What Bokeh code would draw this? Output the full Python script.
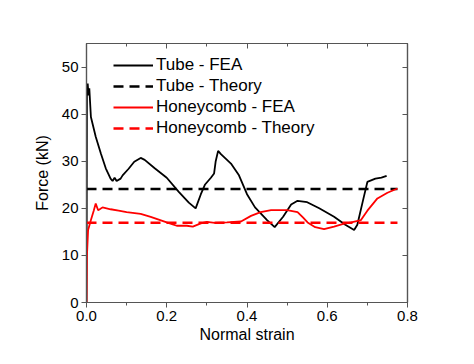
from bokeh.plotting import figure
from bokeh.models import LinearAxis, FixedTicker, Legend, LegendItem, CustomJSTickFormatter, Range1d
from bokeh.embed import file_html
from bokeh.resources import INLINE

tube_strain = [0.0, 0.001, 0.003, 0.005, 0.007, 0.011, 0.023, 0.036, 0.048, 0.06, 0.065, 0.07, 0.075,
               0.085, 0.09, 0.105, 0.119, 0.135, 0.145, 0.17, 0.2, 0.23, 0.255, 0.272, 0.285, 0.295, 0.31,
               0.318, 0.322, 0.328, 0.335, 0.36, 0.38, 0.4, 0.42, 0.45, 0.469, 0.49, 0.51, 0.526,
               0.55, 0.58, 0.617, 0.645, 0.667, 0.675, 0.69, 0.7, 0.72, 0.735, 0.748]
tube_force = [0.0, 44.0, 46.5, 44.0, 45.5, 39.4, 35.2, 31.6, 28.5, 26.3, 25.8, 26.5, 25.8,
              26.3, 27.0, 28.4, 29.9, 30.7, 30.3, 28.5, 26.5, 23.5, 21.2, 20.0, 23.0, 25.0, 26.5,
              27.4, 30.0, 32.2, 31.5, 29.5, 27.0, 23.0, 20.2, 17.5, 16.0, 18.2, 20.8, 21.6,
              21.3, 20.0, 18.2, 16.5, 15.4, 16.5, 22.0, 25.6, 26.3, 26.5, 26.9]

honey_strain = [0.0, 0.001, 0.004, 0.011, 0.018, 0.023, 0.029, 0.033, 0.04, 0.06, 0.08, 0.1,
                0.135, 0.16, 0.18, 0.2, 0.215, 0.225, 0.25, 0.265, 0.285, 0.3, 0.32, 0.35, 0.385,
                0.41, 0.434, 0.46, 0.5, 0.526, 0.54, 0.551, 0.57, 0.592, 0.617, 0.64, 0.66, 0.684,
                0.7, 0.725, 0.75, 0.775]
honey_force = [0.0, 9.7, 15.4, 17.5, 19.5, 21.0, 19.6, 19.8, 20.2, 19.8, 19.5, 19.2,
               18.8, 18.2, 17.6, 17.0, 16.6, 16.3, 16.3, 16.1, 16.8, 17.1, 16.9, 17.0, 17.2,
               18.4, 19.2, 19.6, 19.6, 19.2, 18.0, 17.0, 16.0, 15.6, 16.1, 16.7, 17.0, 17.5,
               19.5, 22.1, 23.3, 24.2]

theory_strain = [0.0, 0.775]
tube_theory = [24.1, 24.1]
honey_theory = [16.95, 16.95]

x_ticks = [0.0, 0.2, 0.4, 0.6, 0.8]
x_minor = [0.1, 0.3, 0.5, 0.7]
y_ticks = [0, 10, 20, 30, 40, 50]

FONT = "Liberation Sans"
AX = "#555555"

p = figure(frame_width=321, frame_height=259, min_border_left=86, min_border_right=59,
           min_border_top=43, min_border_bottom=53, output_backend="svg",
           toolbar_location=None, x_range=Range1d(0, 0.8), y_range=Range1d(0, 55))
p.grid.visible = False
p.outline_line_color = AX
p.outline_line_width = 1.2
p.background_fill_color = "white"
p.border_fill_color = "white"

def style(ax, inside=False):
    ax.axis_line_color = AX
    ax.major_tick_line_color = AX
    ax.minor_tick_line_color = AX
    ax.axis_line_width = 1.2
    if inside:
        ax.major_tick_in, ax.major_tick_out = 5, 0
        ax.minor_tick_in, ax.minor_tick_out = 3, 0
    else:
        ax.major_tick_in, ax.major_tick_out = 0, 5
        ax.minor_tick_in, ax.minor_tick_out = 0, 3
    ax.major_label_text_font = FONT
    ax.major_label_text_font_size = "15px"
    ax.major_label_text_color = "black"
    ax.axis_label_text_font = FONT
    ax.axis_label_text_font_size = "16px"
    ax.axis_label_text_font_style = "normal"
    ax.axis_label_text_color = "black"

xa = p.xaxis[0]
xa.ticker = FixedTicker(ticks=x_ticks, minor_ticks=x_minor)
xa.formatter = CustomJSTickFormatter(code="return tick.toFixed(1);")
xa.axis_label = "Normal strain"
xa.axis_label_standoff = 2
xa.major_label_standoff = 3
style(xa)

ya = p.yaxis[0]
ya.ticker = FixedTicker(ticks=y_ticks, minor_ticks=[])
ya.axis_label = "Force (kN)"
ya.axis_label_standoff = 8
ya.major_label_standoff = 3
style(ya)

blank = CustomJSTickFormatter(code="return '';")
top = LinearAxis(ticker=FixedTicker(ticks=x_ticks, minor_ticks=x_minor), formatter=blank)
style(top, inside=True)
p.add_layout(top, "above")
right = LinearAxis(ticker=FixedTicker(ticks=y_ticks, minor_ticks=[]), formatter=blank)
style(right, inside=True)
p.add_layout(right, "right")

r1 = p.line(tube_strain, tube_force, line_color="black", line_width=1.8)
r2 = p.line(theory_strain, tube_theory, line_color="black", line_width=2.5, line_dash="10 6")
r3 = p.line(honey_strain, honey_force, line_color="#ff0000", line_width=1.8)
r4 = p.line(theory_strain, honey_theory, line_color="#ff0000", line_width=2.5, line_dash="10 6")

leg = Legend(items=[LegendItem(label="Tube - FEA", renderers=[r1]),
                    LegendItem(label="Tube - Theory", renderers=[r2]),
                    LegendItem(label="Honeycomb - FEA", renderers=[r3]),
                    LegendItem(label="Honeycomb - Theory", renderers=[r4])],
             location=(27, 164))
leg.border_line_color = None
leg.background_fill_alpha = 0
leg.padding = 0
leg.margin = 0
leg.spacing = 1
leg.glyph_width = 40
leg.glyph_height = 20
leg.label_height = 20
leg.label_standoff = 3
leg.label_text_font = FONT
leg.label_text_font_size = "17px"
leg.label_text_color = "black"
p.add_layout(leg, "center")

open("out.html", "w").write(file_html(p, INLINE))
